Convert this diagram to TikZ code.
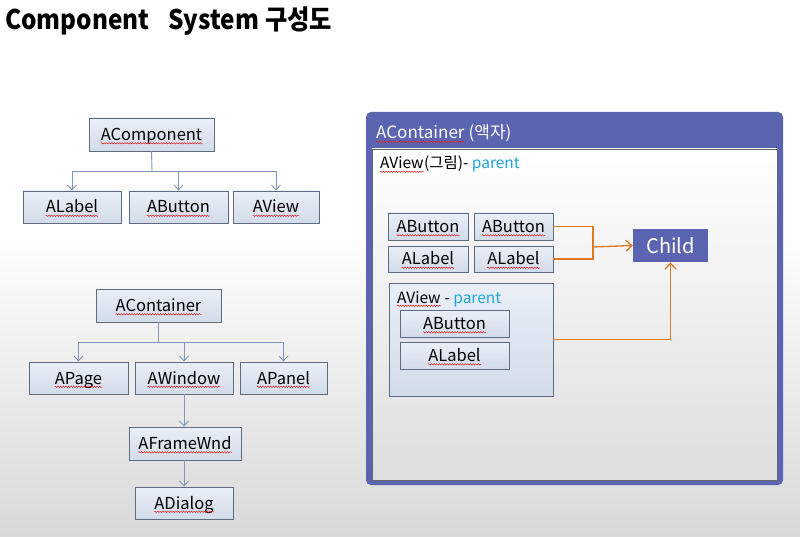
\documentclass[tikz,border=0pt]{standalone}
\usepackage{fontspec}
\setmainfont{Noto Sans CJK KR}
\usetikzlibrary{arrows.meta,decorations.pathmorphing}
\definecolor{boxdraw}{HTML}{5F6B80}
\definecolor{boxtop}{HTML}{EAEFF7}
\definecolor{boxbot}{HTML}{D2DBE9}
\definecolor{linkc}{HTML}{8096BB}
\definecolor{purp}{HTML}{5B64B0}
\definecolor{orng}{HTML}{DF7A22}
\definecolor{cyanp}{HTML}{1FA7DC}
\definecolor{wavec}{HTML}{E02020}
\tikzset{
  cls/.style={draw=boxdraw, line width=0.8pt, top color=boxtop, bottom color=boxbot,
    inner sep=0pt, minimum height=32pt},
  sbox/.style={cls, minimum height=27pt},
  txt/.style={inner sep=0pt, anchor=base, font=\fontsize{16.5}{19}\selectfont},
  ltxt/.style={inner sep=0pt, anchor=base west, font=\fontsize{15.5}{18}\selectfont},
  ttl/.style={inner sep=0pt, anchor=base west, font=\fontsize{27}{30}\bfseries\addfontfeatures{FakeStretch=0.9}},
  wave/.style={draw=wavec, line width=0.5pt,
    decorate, decoration={snake, amplitude=0.7pt, segment length=2.6pt}},
  link/.style={draw=linkc, line width=0.9pt},
  linkarr/.style={link, -{Straight Barb[length=5pt,width=9pt]}},
  oline/.style={draw=orng, line width=1.3pt},
  oarr/.style={oline, -{Straight Barb[length=6pt,width=11pt]}},
}
\newcommand\uw[1]{\draw[wave] ([yshift=-2.8pt]#1.base west) -- ([yshift=-2.8pt]#1.base east);}
\newcommand\cbox[5]{% style, name, pos, width, text
  \node[#1, minimum width=#4] (#2) at (#3) {};
  \node[txt] (#2T) at ([yshift=-6pt]#2.center) {#5};
  \uw{#2T}}
\begin{document}
\begin{tikzpicture}[x=1pt,y=-1pt]
\useasboundingbox (0,0) rectangle (800,537);
\fill[white] (0,0) rectangle (800,537);
\shade[top color=white, bottom color=black!15] (0,230) rectangle (800,537);
% title
\node[ttl] (title1) at (5,30) {Component};
\node[ttl] (title2) at (168,30) {System};
\node[ttl] (title3) at (265,30) {구성도};
% tree 1
\cbox{cls, minimum height=33pt}{acomp}{151.5,134.5}{125pt}{AComponent}
\cbox{cls}{alabel}{72,207}{98pt}{ALabel}
\cbox{cls}{abutton}{178.5,207}{99pt}{AButton}
\cbox{cls}{aview}{276,207}{86pt}{AView}
\coordinate (j1) at (152,171);
\draw[link] (acomp.south) -- (j1);
\draw[linkarr] (j1) -| (alabel.north);
\draw[linkarr] (j1) -| (aview.north);
\draw[linkarr] (abutton.north |- j1) -- (abutton.north);
% tree 2
\cbox{cls, minimum height=33pt}{acont}{158.5,305.5}{125pt}{AContainer}
\cbox{cls}{apage}{78.5,378}{99pt}{APage}
\cbox{cls}{awin}{184,378}{98pt}{AWindow}
\cbox{cls}{apanel}{283.5,378}{87pt}{APanel}
\cbox{cls, minimum height=33pt}{aframe}{185,443.5}{112pt}{AFrameWnd}
\cbox{cls}{adlg}{184,503}{98pt}{ADialog}
\coordinate (j2) at (158.5,342);
\draw[link] (acont.south) -- (j2);
\draw[linkarr] (j2) -| (apage.north);
\draw[linkarr] (j2) -| (apanel.north);
\draw[linkarr] (awin.north |- j2) -- (awin.north);
\draw[linkarr] (awin.south) -- (awin.south |- aframe.north);
\draw[linkarr] (adlg.north |- aframe.south) -- (adlg.north);
% container
\fill[purp, rounded corners=5pt] (366,112) rectangle (783,485);
\node[ltxt, text=white, font=\fontsize{17}{20}\selectfont] (ct1) at (376,139) {AContainer};
\node[ltxt, text=white, font=\fontsize{17}{20}\selectfont] (ct2) at (ct1.base east) {\ (액자)};
\uw{ct1}
\shade[top color=white, bottom color=black!13, draw=black!60, line width=0.6pt] (372,149) rectangle (777,480);
\node[ltxt] (vt1) at (380,169) {AView};
\node[ltxt] (vt2) at (vt1.base east) {(그림)- \textcolor{cyanp}{parent}};
\uw{vt1}
\cbox{sbox}{b1}{428,226.5}{80pt}{AButton}
\cbox{sbox}{b2}{513.5,226.5}{79pt}{AButton}
\cbox{sbox, minimum height=26pt}{l1}{428,259}{80pt}{ALabel}
\cbox{sbox, minimum height=26pt}{l2}{513.5,259}{79pt}{ALabel}
\node[fill=purp, text=white, minimum width=75pt, minimum height=33pt, inner sep=0pt,
  font=\fontsize{20}{23}\selectfont] (child) at (670.5,245.5) {Child};
\coordinate (jo) at (593,247);
\draw[oline] (b2.east) -| (jo);
\draw[oline] (l2.east) -| (jo);
\draw[oarr] (jo) -- (child.west);
\node[draw=boxdraw, line width=0.8pt, top color=boxtop, bottom color=boxbot,
  minimum width=164pt, minimum height=113pt, inner sep=0pt] (av2) at (471,339.5) {};
\node[ltxt] (at1) at (397,303) {AView};
\node[ltxt] (at2) at (at1.base east) {\ - \textcolor{cyanp}{parent}};
\uw{at1}
\cbox{sbox}{b3}{454.5,323.5}{109pt}{AButton}
\cbox{sbox}{l3}{454.5,355.5}{109pt}{ALabel}
\draw[oarr] (av2.east) -| (child.south);
\end{tikzpicture}
\end{document}
